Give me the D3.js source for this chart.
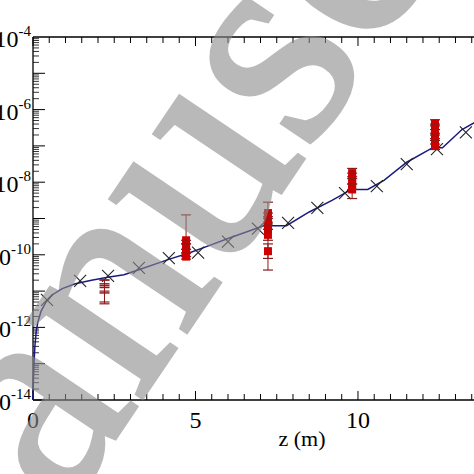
<!DOCTYPE html>
<html><head><meta charset="utf-8">
<script src="https://cdn.jsdelivr.net/npm/d3@7"></script>
<style>body{margin:0;background:#fff}</style></head>
<body><svg id="c" width="474" height="474"></svg>
<script>
// line (z, log10 value)
const lineZ = [0,0.01,0.03,0.06,0.1,0.15,0.25,0.4,0.6,0.9,1.3,1.8,2.3,2.8,3.3,4.2,4.8,5.5,6.0,7.1,7.3,7.8,8.5,9.2,9.8,10.3,10.8,11.5,12.3,12.6,13.2,13.6];
const lineV = [-14,-13.5,-13.0,-12.5,-12.1,-11.85,-11.55,-11.3,-11.1,-10.93,-10.8,-10.7,-10.62,-10.55,-10.4,-10.12,-9.95,-9.72,-9.55,-9.2,-9.2,-9.2,-8.82,-8.5,-8.2,-8.2,-7.95,-7.45,-7.05,-7.05,-6.55,-6.35];
// cross markers
const crossZ = [0.43,1.45,2.31,3.26,4.18,5.08,6.0,6.92,7.85,8.75,9.6,10.58,11.5,12.43,13.32];
const crossV = [-11.24,-10.72,-10.58,-10.36,-10.09,-9.94,-9.64,-9.28,-9.12,-8.71,-8.30,-8.11,-7.50,-7.09,-6.63];
// measurement clusters: z, value, low, high (log10)
const measZ  = [2.2,2.2,2.2, 4.71,4.71,4.71,4.71,4.71, 7.23,7.23,7.23,7.23,7.23,7.23, 9.82,9.82,9.82,9.82, 12.37,12.37,12.37,12.37,12.37];
const measV  = [-10.8,-10.9,-11.05, -9.6,-9.72,-9.85,-9.95,-10.05, -8.85,-9.0,-9.15,-9.3,-9.45,-9.9, -7.75,-7.9,-8.05,-8.2, -6.38,-6.55,-6.7,-6.85,-7.0];
const measLo = [-11.0,-11.35,-11.3, -9.7,-9.85,-9.95,-10.05,-10.12, -8.95,-9.1,-9.3,-9.6,-10.1,-10.42, -7.85,-8.05,-8.2,-8.45, -6.45,-6.65,-6.8,-6.95,-7.1];
const measHi = [-10.69,-10.7,-10.85, -8.9,-9.6,-9.7,-9.85,-9.95, -8.55,-8.85,-9.0,-9.15,-9.3,-9.7, -7.62,-7.75,-7.9,-8.05, -6.28,-6.4,-6.55,-6.7,-6.85];
const xTicks = [0,5,10];
const yDecades = [-14,-12,-10,-8,-6,-4];

const FONT="'Liberation Serif','Times New Roman',Times,serif";
const svg = d3.select("#c");
const x = d3.scaleLinear().domain([0,13.57]).range([33,474]);
const y = d3.scaleLinear().domain([-14,-4]).range([400,37]);
const ink="#000";
const g = svg.append("g");
g.append("line").attr("x1",33).attr("x2",474).attr("y1",400).attr("y2",400).attr("stroke",ink).attr("stroke-width",1.3);
g.append("line").attr("x1",33).attr("x2",474).attr("y1",37).attr("y2",37).attr("stroke",ink).attr("stroke-width",1.3);
g.append("line").attr("x1",33).attr("x2",33).attr("y1",37).attr("y2",400).attr("stroke",ink).attr("stroke-width",1.3);
d3.range(0,13.6,0.5).forEach(t=>{
  const L = (t%5===0)?9:6;
  g.append("line").attr("x1",x(t)).attr("x2",x(t)).attr("y1",400).attr("y2",400-L).attr("stroke",ink);
  g.append("line").attr("x1",x(t)).attr("x2",x(t)).attr("y1",37).attr("y2",37+L).attr("stroke",ink);
});
for(let d=-14; d<-4; d++){
  g.append("line").attr("x1",33).attr("x2",45).attr("y1",y(d)).attr("y2",y(d)).attr("stroke",ink);
  for(let k=2;k<10;k++){
    const v=d+Math.log10(k);
    g.append("line").attr("x1",33).attr("x2",39).attr("y1",y(v)).attr("y2",y(v)).attr("stroke",ink).attr("stroke-width",0.8);
  }
}
xTicks.forEach(t=>g.append("text").attr("x",x(t)).attr("y",428).attr("text-anchor","middle")
  .attr("font-family",FONT).attr("font-size",24).text(t));
yDecades.forEach(d=>{
  const t=g.append("text").attr("x",31).attr("y",y(d)+10).attr("text-anchor","end").attr("font-family",FONT).attr("font-size",24);
  t.append("tspan").text("10");
  t.append("tspan").attr("dy",-11).attr("font-size",15).text(d);
});
g.append("text").attr("x",302).attr("y",446).attr("text-anchor","middle").attr("font-family",FONT).attr("font-size",22).text("z (m)");
g.append("path").datum(lineZ.map((z,i)=>[z,lineV[i]]))
 .attr("d",d3.line().x(d=>x(d[0])).y(d=>y(d[1])))
 .attr("fill","none").attr("stroke","#1a1a80").attr("stroke-width",1.5);
crossZ.forEach((z,i)=>{
  const cx=x(z), cy=y(crossV[i]), s=6;
  g.append("path").attr("d",`M${cx-s},${cy-s}L${cx+s},${cy+s}M${cx-s},${cy+s}L${cx+s},${cy-s}`).attr("stroke","#222").attr("stroke-width",1.1);
});
measZ.forEach((z,i)=>{
  const cx=x(z);
  g.append("line").attr("x1",cx).attr("x2",cx).attr("y1",y(measLo[i])).attr("y2",y(measHi[i])).attr("stroke","#8b1a1a").attr("stroke-width",1);
  [measLo[i],measHi[i]].forEach(v=>g.append("line").attr("x1",cx-5).attr("x2",cx+5).attr("y1",y(v)).attr("y2",y(v)).attr("stroke","#8b1a1a").attr("stroke-width",1.2));
  if(i>2) g.append("rect").attr("x",cx-4).attr("y",y(measV[i])-4).attr("width",8).attr("height",8).attr("fill","#cc0000");
  else g.append("line").attr("x1",cx-5).attr("x2",cx+5).attr("y1",y(measV[i])).attr("y2",y(measV[i])).attr("stroke","#8b1a1a").attr("stroke-width",1.5);
});
svg.append("text").attr("transform","translate(-85,735) rotate(-56)")
 .attr("font-family",FONT).attr("font-size",300).attr("fill","#8c8c8c").attr("opacity",0.6)
 .attr("stroke","#8c8c8c").attr("stroke-width",4)
 .text("Manuscript");
</script></body></html>
